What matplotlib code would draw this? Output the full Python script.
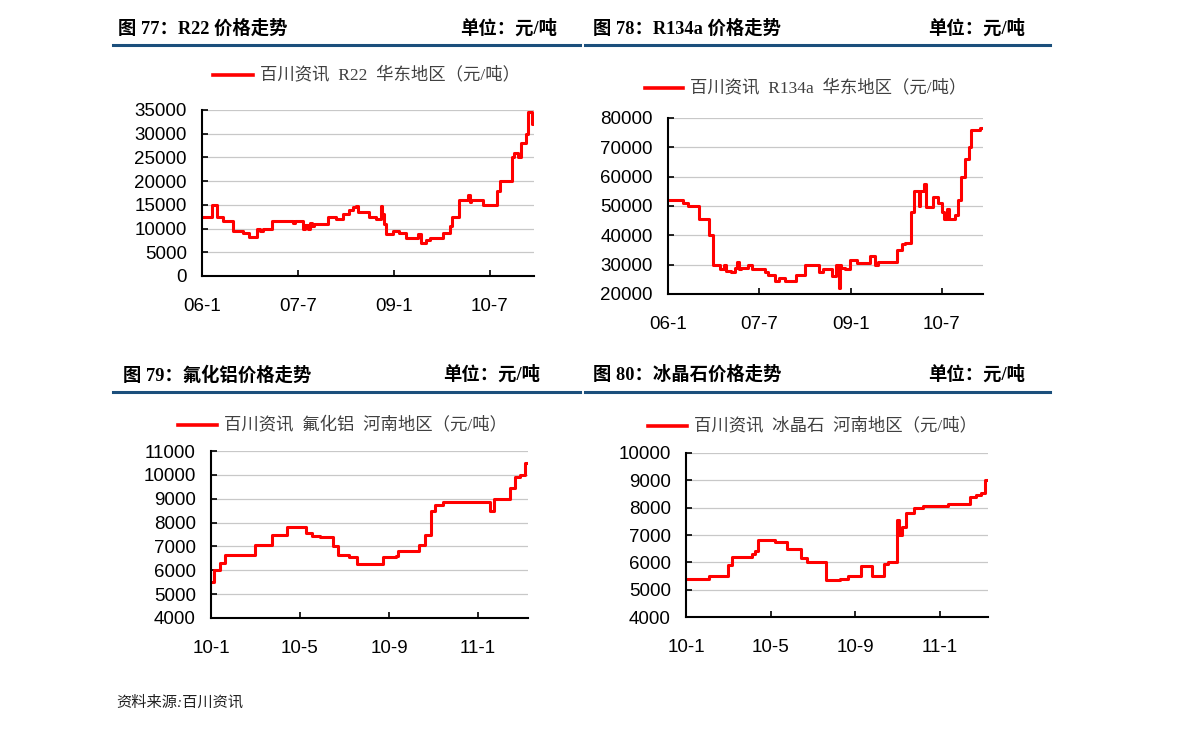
import numpy as np
import matplotlib
matplotlib.use('Agg')
import matplotlib.pyplot as plt

plt.rcParams['font.family'] = ['Liberation Sans', 'Noto Sans CJK SC', 'DejaVu Sans']
plt.rcParams['axes.unicode_minus'] = False

# 图77 R22：月份序号（0 = 2006-01），价格（元/吨）
r22_month = [0, 1.9, 2.8, 3.0, 4.0, 5.8, 7.7, 8.8, 10.3, 10.9, 11.4, 13.1, 17.0, 17.4, 18.9, 19.4, 19.9, 20.3,
             20.6, 21.0, 23.6, 25.2, 26.4, 27.5, 28.3, 28.8, 29.2, 31.4, 32.7, 33.5, 33.8, 34.1, 34.5, 35.8,
             37.0, 38.2, 40.5, 41.1, 42.0, 42.7, 45.2, 46.5, 46.9, 48.2, 49.9, 50.2, 50.5, 51.4, 52.7, 55.4,
             55.8, 56.2, 58.2, 58.5, 59.2, 59.9, 60.8, 61.2, 61.8, 62.0, 62.25]
r22_price = [12500, 15000, 12500, 12500, 11500, 9500, 9000, 8200, 10000, 9500, 10000, 11500, 11200, 11500,
             10000, 10800, 10000, 11200, 10500, 11000, 12500, 12000, 13000, 14000, 14500, 14800, 13500,
             12500, 12000, 14800, 13000, 11000, 8800, 9500, 9000, 8000, 8800, 7000, 7500, 8000, 9000,
             10500, 12500, 16000, 17000, 15500, 16000, 16000, 15000, 18000, 20000, 20000, 25000, 26000,
             25000, 28000, 30000, 34500, 32000, 33000, 33000]

# 图78 R134a：月份序号（0 = 2006-01）
r134a_month = [0, 3.0, 3.9, 6.1, 8.0, 8.8, 10.2, 11.0, 11.5, 12.5, 13.2, 13.6, 14.0, 14.3, 15.8, 16.6, 19.1,
               19.7, 21.1, 21.9, 23.0, 25.3, 27.0, 29.8, 30.6, 32.3, 33.2, 33.7, 33.9, 34.2, 34.9, 35.9, 37.2,
               39.8, 40.8, 41.4, 43.4, 45.1, 46.1, 46.7, 47.9, 48.4, 49.4, 49.7, 50.5, 50.8, 52.2, 53.2, 54.0,
               54.5, 55.0, 55.3, 55.5, 56.5, 57.2, 57.8, 58.6, 59.3, 59.7, 61.5, 62.1]
r134a_price = [52000, 51000, 50000, 45500, 40000, 30000, 28500, 30000, 28000, 27500, 29000, 31000, 28500,
               29000, 30000, 28500, 27500, 26500, 24500, 25500, 24500, 26500, 30000, 27500, 28500, 26000,
               30000, 22000, 30000, 29000, 28500, 31500, 30500, 33000, 30000, 31000, 31000, 35000, 37000,
               37500, 48000, 55000, 50000, 55000, 57500, 49500, 53000, 51000, 48000, 45500, 49000, 45500,
               45500, 47000, 52000, 60000, 66000, 70000, 76000, 76500, 76500]

# 图79 氟化铝：月份序号（0 = 2010-01）
alf3_month = [0, 0.15, 0.4, 0.65, 2.0, 2.75, 3.4, 4.25, 4.55, 4.9, 5.5, 5.7, 6.2, 6.55, 7.75, 8.3, 8.4, 9.35,
              9.6, 9.9, 10.05, 10.45, 12.55, 12.7, 13.45, 13.65, 13.9, 14.1, 14.25]
alf3_price = [5500, 6000, 6300, 6650, 7050, 7500, 7800, 7550, 7450, 7400, 7000, 6650, 6550, 6250, 6550, 6600,
              6800, 7050, 7500, 8500, 8750, 8850, 8500, 9000, 9450, 9900, 10000, 10500, 10500]

# 图80 冰晶石：月份序号（0 = 2010-01）
cryo_month = [0, 1.1, 2.0, 2.15, 3.1, 3.25, 3.4, 4.2, 4.75, 5.45, 5.7, 6.6, 7.27, 7.65, 8.25, 8.8, 9.35, 9.55,
              9.95, 10.05, 10.2, 10.4, 10.75, 11.2, 12.35, 13.4, 13.7, 13.95, 14.1, 14.26]
cryo_price = [5400, 5500, 5900, 6200, 6300, 6400, 6800, 6750, 6500, 6150, 6000, 5350, 5400, 5500, 5850, 5500,
              5950, 6000, 7550, 7000, 7300, 7800, 8000, 8050, 8150, 8400, 8450, 8550, 9000, 9000]

W, H = 1191, 733
fig = plt.figure(figsize=(W / 100, H / 100), dpi=100)
blue = '#1B4F7C'
serif_cjk = ['Liberation Serif', 'Noto Sans CJK SC']


def px_axes(x0, y0, x1, y1):
    return fig.add_axes([x0 / W, 1 - y1 / H, (x1 - x0) / W, (y1 - y0) / H])


def header(x0, x1, y, title, line_y, lx0, lx1):
    fig.text(x0 / W, 1 - y / H, title, fontsize=13.2, fontweight='bold', family=serif_cjk, va='center')
    fig.text(x1 / W, 1 - y / H, '单位：元/吨', fontsize=13.2, fontweight='bold', family=serif_cjk,
             va='center', ha='right')
    fig.add_artist(plt.Line2D([lx0 / W, lx1 / W], [1 - line_y / H, 1 - line_y / H], color=blue, lw=2.2))


def legend(lx0, lx1, y, label):
    fig.add_artist(plt.Line2D([lx0 / W, lx1 / W], [1 - y / H, 1 - y / H], color='#FF0000', lw=2.6))
    fig.text((lx1 + 7) / W, 1 - y / H, label, fontsize=12.5, family=serif_cjk, color='#404040', va='center')


def panel(ax, xs, ys, xlim, ylim, ystep, xticks, xlabels):
    ax.plot(xs, ys, drawstyle='steps-post', color='#FF0000', lw=2.2)
    ax.set_xlim(xlim)
    ax.set_ylim(ylim)
    ax.set_yticks(np.arange(ylim[0], ylim[1] + 1, ystep))
    ax.set_xticks(xticks)
    ax.set_xticklabels(xlabels)
    ax.yaxis.grid(True, color='#C8C8C8', lw=0.9)
    ax.set_axisbelow(True)
    for s in ['top', 'right']:
        ax.spines[s].set_visible(False)
    for s in ['left', 'bottom']:
        ax.spines[s].set_linewidth(1.5)
    ax.tick_params(axis='x', direction='in', length=4, width=1.2, pad=16, labelsize=13.5)
    ax.tick_params(axis='y', direction='in', length=4, width=1.2, pad=11, labelsize=13.5)


# 图77
header(118, 557, 29, '图 77：R22 价格走势', 45, 113, 580)
legend(213, 253, 75, '百川资讯  R22  华东地区（元/吨）')
ax1 = px_axes(202, 110, 534, 276)
panel(ax1, r22_month, r22_price, (0, 62.25), (0, 35000), 5000, [0, 18, 36, 54],
      ['06-1', '07-7', '09-1', '10-7'])

# 图78
header(593, 1025, 29, '图 78：R134a 价格走势', 45, 585, 1050)
legend(645, 683, 88, '百川资讯  R134a  华东地区（元/吨）')
ax2 = px_axes(668, 118, 983, 294)
panel(ax2, r134a_month, r134a_price, (0, 62.1), (20000, 80000), 10000, [0, 18, 36, 54],
      ['06-1', '07-7', '09-1', '10-7'])

# 图79
header(123, 540, 375, '图 79：氟化铝价格走势', 392, 113, 580)
legend(178, 217, 425, '百川资讯  氟化铝  河南地区（元/吨）')
ax3 = px_axes(211, 451, 528, 618)
panel(ax3, alf3_month, alf3_price, (0, 14.25), (4000, 11000), 1000, [0, 4, 8, 12],
      ['10-1', '10-5', '10-9', '11-1'])

# 图80
header(593, 1025, 375, '图 80：冰晶石价格走势', 392, 585, 1050)
legend(648, 687, 426, '百川资讯  冰晶石  河南地区（元/吨）')
ax4 = px_axes(686, 453, 988, 617)
panel(ax4, cryo_month, cryo_price, (0, 14.26), (4000, 10000), 1000, [0, 4, 8, 12],
      ['10-1', '10-5', '10-9', '11-1'])

fig.text(116 / W, 1 - 703 / H, '资料来源:百川资讯', fontsize=11, style='italic', family=serif_cjk,
         color='#222222', va='center')

plt.savefig('out.png', dpi=100)
